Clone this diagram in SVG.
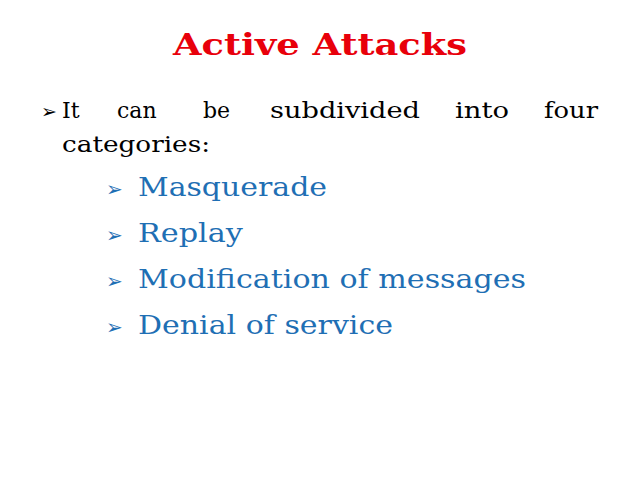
<svg xmlns="http://www.w3.org/2000/svg" width="638" height="478" viewBox="0 0 638 478">
<style>
.t{font-family:"DejaVu Serif","Liberation Serif",serif}
.b{fill:#1F6FB4;font-size:26px}
.k{fill:#000;font-size:22px}
.a{font-family:"DejaVu Sans",sans-serif}
</style>
<rect width="638" height="478" fill="#fff"/>
<g id="title"><text class="t" x="320" y="55" text-anchor="middle" font-size="30" font-weight="bold" fill="#E8000B" textLength="294" lengthAdjust="spacingAndGlyphs">Active Attacks</text></g>
<g id="intro">
<text class="a" x="41" y="118" font-size="19" fill="#000">➢</text>
<text class="t k" x="62" y="118">It</text>
<text class="t k" x="117" y="118">can</text>
<text class="t k" x="203" y="118">be</text>
<text class="t k" x="270" y="118" textLength="150" lengthAdjust="spacingAndGlyphs">subdivided</text>
<text class="t k" x="455" y="118" textLength="54" lengthAdjust="spacingAndGlyphs">into</text>
<text class="t k" x="544" y="118" textLength="54" lengthAdjust="spacingAndGlyphs">four</text>
<text class="t k" x="62" y="152" textLength="148" lengthAdjust="spacingAndGlyphs">categories:</text>
</g>
<g id="items">
<text class="a" x="106" y="196" font-size="20" fill="#1F6FB4">➢</text>
<text class="t b" x="138" y="196" textLength="189" lengthAdjust="spacingAndGlyphs">Masquerade</text>
<text class="a" x="106" y="242" font-size="20" fill="#1F6FB4">➢</text>
<text class="t b" x="138" y="242" textLength="105" lengthAdjust="spacingAndGlyphs">Replay</text>
<text class="a" x="106" y="288" font-size="20" fill="#1F6FB4">➢</text>
<text class="t b" x="138" y="288" textLength="388" lengthAdjust="spacingAndGlyphs">Modification of messages</text>
<text class="a" x="106" y="334" font-size="20" fill="#1F6FB4">➢</text>
<text class="t b" x="138" y="334" textLength="255" lengthAdjust="spacingAndGlyphs">Denial of service</text>
</g>
</svg>
